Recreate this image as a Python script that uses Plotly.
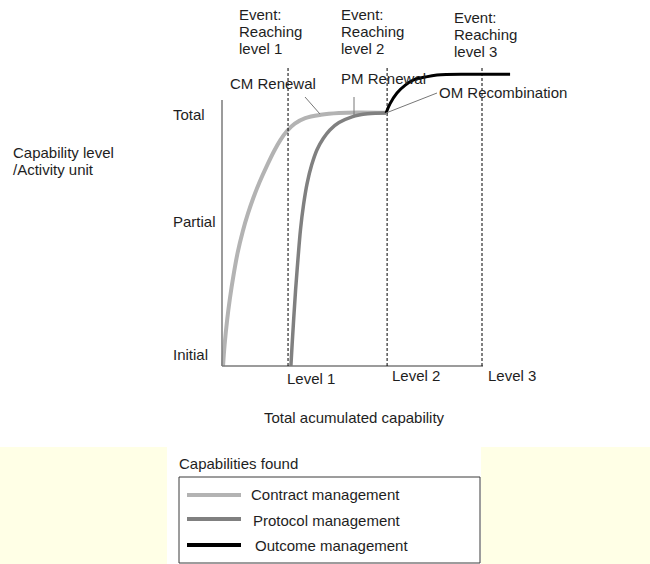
import plotly.graph_objects as go

# ---- data (x: accumulated capability units, y: capability level units) ----
cm_x = [0.4, 1.0, 2.0, 3.0, 4.5, 6.0, 8.0, 10.0, 12.0, 14.5, 17.3, 20.0, 22.5, 25.0, 28.0, 32.0, 38.0, 45.0, 52.0, 63.1]
cm_y = [0.0, 8.4, 18.4, 26.4, 36.3, 44.7, 53.3, 60.3, 66.3, 72.8, 79.2, 84.9, 89.4, 92.9, 95.8, 98.0, 99.3, 100.0, 100.2, 100.1]

pm_x = [26.5, 27.0, 27.6, 28.3, 29.2, 30.2, 31.4, 32.7, 34.5, 36.5, 39.0, 41.5, 45.0, 50.0, 56.0, 63.1]
pm_y = [0.0, 9.0, 19.0, 30.0, 42.0, 54.0, 64.0, 72.0, 79.5, 85.4, 90.0, 93.3, 96.2, 98.5, 99.7, 100.0]

om_x = [63.1, 64.6, 67.3, 70.5, 73.5, 78.1, 82.7, 95.0, 110.8]
om_y = [100.0, 103.6, 107.9, 111.0, 113.0, 114.2, 115.0, 115.3, 115.3]

level_x = [25.4, 63.5, 100.0]
level_labels = ["Level 1", "Level 2", "Level 3"]
event_labels = [["Event:", "Reaching", "level 1"],
                ["Event:", "Reaching", "level 2"],
                ["Event:", "Reaching", "level 3"]]
series_names = ["Contract management", "Protocol management", "Outcome management"]
series_colors = ["#b3b3b3", "#808080", "#000000"]

W, H = 650, 564
X0PX, Y0PX = 222, 366        # pixel of data origin
SX, SY = 2.6, 2.53           # pixels per data unit

def X(p):
    return p / W

def Y(p):
    return 1 - p / H

FONT = "Liberation Sans, Arial, sans-serif"
TXT = "#1e1e1e"

fig = go.Figure()
for xs, ys, name, col, w in [(cm_x, cm_y, series_names[0], series_colors[0], 4),
                             (pm_x, pm_y, series_names[1], series_colors[1], 3.5),
                             (om_x, om_y, series_names[2], series_colors[2], 3)]:
    fig.add_trace(go.Scatter(x=xs, y=ys, mode="lines", name=name,
                             line=dict(color=col, width=w, shape="spline", smoothing=1.0),
                             hoverinfo="skip"))

shapes = []
# bottom yellow band and white panel
shapes.append(dict(type="rect", xref="paper", yref="paper", x0=0, x1=1, y0=Y(564), y1=Y(447),
                   fillcolor="#ffffe6", line=dict(width=0), layer="below"))
shapes.append(dict(type="rect", xref="paper", yref="paper", x0=X(167), x1=X(481), y0=Y(564), y1=Y(447),
                   fillcolor="#ffffff", line=dict(width=0), layer="below"))
# legend box
shapes.append(dict(type="rect", xref="paper", yref="paper", x0=X(179), x1=X(480), y0=Y(563), y1=Y(477),
                   line=dict(color="#3a3a3a", width=1), fillcolor="rgba(0,0,0,0)"))
# axes
shapes.append(dict(type="line", x0=0, x1=0, y0=0, y1=(Y0PX - 100) / SY,
                   line=dict(color="#7a7a7a", width=1.5)))
shapes.append(dict(type="line", x0=0, x1=level_x[2] + 0.4, y0=0, y1=0,
                   line=dict(color="#7a7a7a", width=1.5)))
# dashed event lines
for lx in level_x:
    shapes.append(dict(type="line", x0=lx, x1=lx, y0=0, y1=(Y0PX - 68) / SY,
                       line=dict(color="#000000", width=1, dash="3px,2px")))
# leader lines
for (a, b, c, d) in [(305, 97, 320, 114), (354, 97, 354, 115), (437, 93, 386, 113)]:
    shapes.append(dict(type="line", xref="paper", yref="paper", x0=X(a), y0=Y(b), x1=X(c), y1=Y(d),
                       line=dict(color="#777777", width=1)))
# legend samples
for col, yy in zip(series_colors, [495, 519, 545]):
    shapes.append(dict(type="line", xref="paper", yref="paper", x0=X(187), x1=X(241), y0=Y(yy), y1=Y(yy),
                       line=dict(color=col, width=4)))

ann = []
def text(t, xp, yp, size=15):
    ann.append(dict(text=t, x=X(xp), y=Y(yp), xref="paper", yref="paper", xanchor="left",
                    yanchor="middle", showarrow=False, font=dict(family=FONT, size=size, color=TXT)))

# event labels
for lines, xp, y0 in zip(event_labels, [237, 339, 452], [15, 15, 17]):
    for i, t in enumerate(lines):
        text(t, xp, y0 + 17 * i)
text("CM Renewal", 228, 83)
text("PM Renewal", 339, 78)
text("OM Recombination", 437, 92)
text("Total", 171, 114)
text("Partial", 171, 222)
text("Initial", 171, 354)
text("Capability level", 11, 153)
text("/Activity unit", 11, 170)
for lab, xp, yp in zip(level_labels, [285, 390, 486], [378, 375, 375]):
    text(lab, xp, yp)
ann.append(dict(text="Total acumulated capability", x=X(355), y=Y(417), xref="paper", yref="paper",
                xanchor="center", yanchor="middle", showarrow=False,
                font=dict(family=FONT, size=15, color=TXT)))
text("Capabilities found", 177, 463)
for nm, xp, yp in zip(series_names, [249, 251, 253], [494, 520, 545]):
    text(nm, xp, yp)

fig.update_layout(
    width=W, height=H, margin=dict(l=0, r=0, t=0, b=0),
    paper_bgcolor="white", plot_bgcolor="white", showlegend=False,
    xaxis=dict(range=[-X0PX / SX, (W - X0PX) / SX], visible=False, fixedrange=True),
    yaxis=dict(range=[-(H - Y0PX) / SY, Y0PX / SY], visible=False, fixedrange=True),
    shapes=shapes, annotations=ann,
)
fig.write_html("out.html", config={"displayModeBar": False},
               post_script="document.body.style.margin='0';document.body.style.overflow='hidden';")
